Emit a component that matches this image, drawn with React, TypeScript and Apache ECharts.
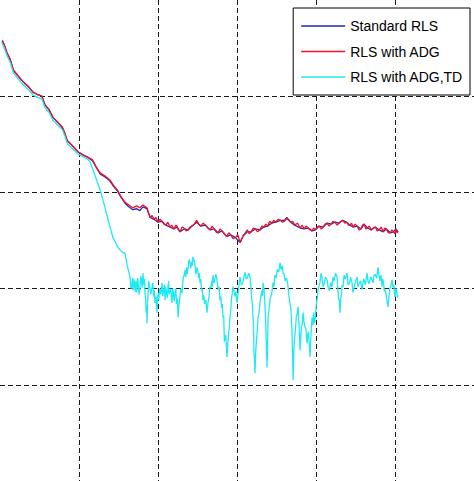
import { useEffect, useRef } from 'react';
import * as echarts from 'echarts';

// iteration axis / MSE (dB) axis
const xTicks = [0, 1000, 2000, 3000, 4000, 5000, 6000];
const yTicks = [-50, -40, -30, -20, -10, 0];

const seriesNames = ['Standard RLS', 'RLS with ADG', 'RLS with ADG,TD'];

// [iteration, dB]
const standardRls = [
  [30, -4.2], [50, -4.6], [90, -5.5], [130, -6.2], [170, -7.3], [220, -7.8], [270, -8.3], [320, -8.7],
  [370, -9.1], [420, -9.6], [470, -9.8], [530, -10.0], [570, -10.9], [620, -11.4], [670, -12.2],
  [730, -12.7], [790, -13.3], [820, -13.9], [850, -14.6], [910, -15.1], [990, -15.8], [1050, -16.1],
  [1100, -16.3], [1170, -16.7], [1220, -17.4], [1270, -18.1], [1330, -18.4], [1390, -18.8], [1440, -19.4],
  [1490, -19.9], [1530, -20.5], [1580, -21.1], [1630, -21.5], [1680, -21.8], [1730, -21.7], [1770, -21.9],
  [1810, -21.5], [1860, -21.7], [1900, -22.6], [1950, -22.8], [2000, -23.1], [2050, -23.0], [2100, -23.4],
  [2150, -23.6], [2200, -23.8], [2240, -23.6], [2280, -24.1], [2330, -23.8], [2380, -23.9], [2430, -23.5],
  [2490, -23.1], [2540, -23.5], [2600, -23.4], [2660, -23.9], [2710, -23.8], [2760, -24.2], [2810, -24.0],
  [2870, -24.6], [2920, -24.4], [2980, -24.7], [3040, -25.2], [3080, -24.5], [3130, -24.1], [3180, -24.1],
  [3230, -23.8], [3290, -23.9], [3340, -23.6], [3390, -23.5], [3440, -23.2], [3490, -23.1], [3550, -22.9],
  [3600, -22.9], [3630, -22.6], [3680, -23.1], [3730, -23.4], [3800, -23.7], [3850, -23.8], [3900, -23.7],
  [3950, -24.0], [3990, -23.9], [4040, -23.5], [4090, -23.6], [4140, -23.2], [4190, -23.3], [4240, -23.1],
  [4290, -23.2], [4340, -22.9], [4390, -23.1], [4430, -23.4], [4470, -23.6], [4520, -23.5], [4570, -23.8],
  [4610, -23.3], [4650, -23.7], [4700, -23.9], [4750, -23.6], [4800, -23.9], [4850, -24.1], [4890, -23.8],
  [4940, -24.2], [4980, -24.1], [5010, -23.8], [5040, -24.1],
];

const rlsAdg = [
  [30, -4.2], [50, -4.6], [90, -5.5], [130, -6.2], [170, -7.3], [220, -7.8], [270, -8.3], [320, -8.7],
  [370, -9.1], [420, -9.6], [470, -9.8], [530, -10.0], [570, -10.9], [620, -11.4], [670, -12.2],
  [730, -12.7], [790, -13.2], [820, -13.8], [850, -14.6], [910, -15.1], [990, -15.8], [1050, -16.1],
  [1100, -16.3], [1170, -16.6], [1220, -17.4], [1270, -18.0], [1330, -18.3], [1390, -18.7], [1440, -19.3],
  [1490, -19.8], [1530, -20.4], [1580, -21.0], [1630, -21.3], [1680, -21.6], [1730, -21.4], [1770, -21.6],
  [1810, -21.3], [1860, -21.6],
  [1900, -22.6], [1925, -22.4], [1950, -22.8], [1975, -22.6], [2000, -23.1], [2025, -22.8], [2050, -23.0],
  [2075, -23.3], [2100, -23.4], [2125, -23.1], [2150, -23.6], [2175, -23.4], [2200, -23.8], [2225, -23.4],
  [2240, -23.5], [2260, -23.9], [2280, -24.1], [2305, -23.6], [2330, -23.7], [2355, -24.0], [2380, -23.9],
  [2405, -23.6], [2430, -23.5], [2460, -23.3], [2490, -22.9], [2515, -23.3], [2540, -23.5], [2570, -23.2],
  [2600, -23.4], [2630, -23.7], [2660, -23.9], [2685, -23.5], [2710, -23.8], [2735, -24.1], [2760, -24.2],
  [2785, -23.8], [2810, -24.0], [2840, -24.3], [2870, -24.6], [2895, -24.2], [2920, -24.4], [2950, -24.8],
  [2980, -24.7], [3010, -24.4], [3040, -25.2], [3060, -24.8], [3080, -24.5], [3105, -24.2], [3130, -23.9],
  [3155, -24.3], [3180, -24.1], [3205, -23.7], [3230, -23.8], [3260, -24.1], [3290, -23.9], [3315, -23.5],
  [3340, -23.6], [3365, -23.3], [3390, -23.5], [3415, -23.0], [3440, -23.2], [3465, -22.9], [3490, -23.1],
  [3520, -22.8], [3550, -22.9], [3575, -23.1], [3600, -23.0], [3630, -22.7], [3655, -22.9], [3680, -23.1],
  [3705, -23.0], [3730, -23.4], [3765, -23.2], [3800, -23.7], [3825, -23.4], [3850, -23.8], [3875, -23.5],
  [3900, -23.7], [3925, -23.9], [3950, -24.0], [3970, -23.7], [3990, -23.9], [4015, -23.6], [4040, -23.5],
  [4065, -23.8], [4090, -23.6], [4115, -23.3], [4140, -23.2], [4165, -23.5], [4190, -23.3], [4215, -23.0],
  [4240, -23.1], [4265, -23.4], [4290, -23.2], [4315, -23.0], [4340, -22.9], [4365, -23.2], [4390, -23.1],
  [4410, -23.4], [4430, -23.4], [4450, -23.2], [4470, -23.6], [4495, -23.3], [4520, -23.5], [4545, -23.9],
  [4570, -23.8], [4590, -23.4], [4610, -23.3], [4630, -23.8], [4650, -23.7], [4675, -23.5], [4700, -23.9],
  [4725, -23.7], [4750, -23.6], [4775, -24.0], [4800, -23.9], [4825, -23.6], [4850, -24.1], [4870, -23.7],
  [4890, -23.8], [4915, -24.2], [4940, -24.2], [4960, -23.9], [4980, -24.1], [5000, -24.3], [5010, -23.8],
  [5025, -24.2], [5040, -24.1],
];

const rlsAdgTd = [
  [20, -4.4], [50, -4.9], [90, -5.8], [130, -6.5], [170, -7.6], [220, -8.1], [270, -8.6], [320, -9.0],
  [370, -9.4], [420, -9.9], [470, -10.1], [530, -10.3], [570, -11.2], [620, -11.7], [670, -12.5],
  [730, -13.0], [790, -13.5], [820, -14.1], [850, -14.9], [910, -15.4], [990, -16.0], [1050, -16.3],
  [1100, -16.5], [1140, -16.8], [1200, -18.2], [1270, -19.8], [1320, -21.3], [1370, -22.9], [1430, -24.7],
  [1480, -25.5], [1520, -26.0], [1560, -26.3], [1583, -26.3], [1610, -27.6],
  [1646, -28.8], [1658, -30.0], [1670, -29.7], [1677, -28.9], [1684, -30.2], [1692, -29.0], [1700, -29.4],
  [1710, -30.3], [1720, -29.2], [1728, -30.4], [1735, -29.9], [1742, -28.9], [1750, -29.5], [1760, -30.6],
  [1772, -30.0], [1781, -28.7], [1790, -29.0], [1800, -29.9], [1810, -28.4], [1818, -29.4], [1825, -29.7],
  [1830, -29.0], [1836, -30.5], [1843, -31.0], [1850, -32.5], [1856, -31.8], [1861, -33.6], [1868, -31.2],
  [1875, -30.5], [1882, -29.2], [1890, -29.6], [1908, -30.6], [1925, -29.8], [1935, -29.4], [1945, -30.8],
  [1953, -30.2], [1962, -31.5], [1975, -30.8], [1988, -32.5], [1994, -31.4], [2000, -30.5], [2010, -31.2],
  [2020, -30.0], [2035, -30.6], [2051, -29.4], [2060, -30.8], [2070, -30.3], [2080, -29.6], [2089, -31.2],
  [2097, -29.8], [2105, -30.2], [2116, -31.0], [2127, -29.8], [2133, -29.2], [2140, -30.6], [2160, -30.0],
  [2178, -31.5], [2186, -30.0], [2195, -30.4], [2205, -31.3], [2216, -30.5], [2225, -30.0], [2235, -31.6],
  [2245, -31.0], [2254, -33.0], [2262, -32.0], [2270, -31.4], [2287, -30.0], [2304, -30.5], [2312, -29.5],
  [2320, -28.9], [2331, -28.6], [2342, -28.1], [2351, -28.8], [2360, -27.8], [2370, -28.5], [2380, -27.9],
  [2392, -27.0], [2405, -27.3], [2415, -27.9], [2425, -27.2], [2434, -27.6], [2443, -26.7], [2454, -27.0],
  [2465, -27.3], [2480, -28.5], [2494, -27.8], [2505, -28.2], [2515, -28.9], [2524, -28.4], [2532, -29.4],
  [2541, -29.0], [2550, -30.2], [2560, -30.0], [2570, -31.2], [2580, -30.7], [2590, -31.6], [2605, -31.2],
  [2620, -32.5], [2632, -31.5], [2645, -30.9], [2652, -30.2], [2659, -29.8], [2670, -29.9], [2680, -29.2],
  [2688, -29.8], [2697, -28.6], [2708, -29.4], [2720, -29.0], [2733, -28.5], [2747, -29.1], [2756, -29.8],
  [2765, -30.1], [2775, -29.8], [2785, -31.2], [2795, -30.8], [2805, -32.0], [2814, -31.6], [2823, -33.0],
  [2832, -32.8], [2840, -35.5], [2857, -34.8], [2874, -37.1], [2882, -36.0], [2890, -35.0], [2900, -34.2],
  [2912, -33.0], [2920, -32.4], [2930, -31.0], [2940, -30.5], [2950, -29.8], [2962, -30.2], [2975, -30.8],
  [2988, -30.3], [3000, -31.5], [3010, -30.8], [3020, -30.0], [3030, -29.4], [3038, -28.8],
  [3054, -29.6], [3070, -29.5], [3086, -28.9], [3102, -28.3], [3116, -29.0], [3130, -28.9], [3148, -28.4],
  [3165, -28.8], [3175, -29.6], [3185, -31.0], [3194, -31.5], [3203, -33.0], [3209, -34.0], [3215, -36.5],
  [3222, -37.5], [3228, -38.8], [3236, -36.8], [3245, -35.5], [3255, -34.5], [3266, -33.0], [3279, -32.5],
  [3292, -31.5], [3305, -30.6], [3317, -30.2], [3323, -30.8], [3330, -29.4], [3340, -30.0], [3350, -31.0],
  [3365, -34.0], [3380, -38.2], [3387, -36.0], [3393, -33.0], [3405, -32.2], [3420, -31.0], [3438, -30.6],
  [3456, -29.4], [3468, -29.8], [3480, -28.6], [3495, -28.9], [3510, -28.0], [3528, -28.3], [3545, -27.3],
  [3555, -27.9], [3565, -28.0], [3574, -27.6], [3583, -28.4], [3597, -28.5], [3610, -29.2], [3628, -28.9],
  [3646, -29.8], [3658, -30.8], [3670, -31.5], [3684, -32.2], [3697, -34.6], [3703, -36.5], [3710, -39.5],
  [3722, -36.0], [3735, -34.6], [3742, -34.0], [3750, -33.0], [3762, -32.6], [3773, -31.9], [3779, -32.9],
  [3785, -33.8], [3792, -35.0], [3798, -36.4], [3806, -35.2], [3815, -34.0], [3825, -33.8], [3836, -32.5],
  [3848, -33.5], [3860, -34.0], [3873, -34.2], [3887, -35.7], [3896, -34.8], [3905, -34.5], [3915, -35.8],
  [3925, -37.1], [3930, -36.0], [3935, -35.0], [3942, -34.0], [3950, -33.0], [3960, -33.8], [3970, -32.5],
  [3980, -33.6], [3988, -33.3], [3996, -32.5], [4005, -31.5], [4016, -31.0], [4026, -30.1],
  [4050, -29.4], [4063, -28.4], [4076, -28.8], [4088, -29.8], [4100, -29.6], [4120, -28.8], [4140, -29.1],
  [4155, -29.9], [4170, -30.2], [4186, -29.4], [4203, -29.8], [4216, -28.8], [4230, -29.2], [4248, -28.4],
  [4266, -28.8], [4275, -29.8], [4285, -31.0], [4295, -31.2], [4304, -32.5], [4312, -31.0], [4320, -30.8],
  [4331, -29.6], [4342, -29.8], [4356, -28.6], [4370, -29.0], [4382, -28.7], [4393, -28.4], [4406, -29.6],
  [4420, -29.5], [4438, -28.8], [4456, -29.4], [4468, -30.4], [4480, -30.0], [4500, -29.2], [4520, -28.8],
  [4530, -29.8], [4540, -29.6], [4562, -29.2], [4583, -30.1], [4594, -29.4], [4605, -29.0], [4625, -29.6],
  [4646, -28.4], [4658, -29.2], [4670, -29.5], [4696, -28.8], [4722, -29.4], [4736, -28.6], [4750, -28.5],
  [4768, -28.9], [4786, -27.8], [4798, -28.6], [4810, -29.2], [4823, -28.6], [4836, -29.8], [4845, -29.0],
  [4855, -29.4], [4865, -30.3], [4874, -30.1], [4885, -30.5], [4895, -31.0], [4903, -31.5], [4912, -31.9],
  [4924, -30.8], [4935, -30.0], [4950, -29.6], [4963, -29.1], [4975, -29.9], [4985, -29.6], [4993, -30.4],
  [5001, -30.9], [5010, -30.0], [5020, -30.2], [5030, -30.9], [5040, -30.7],
];

const colors = ['#2626b4', '#ec1524', '#1fe9f2'];

export default function App() {
  const chartRef = useRef<HTMLDivElement>(null);

  useEffect(() => {
    const chart = echarts.init(chartRef.current, null, { renderer: 'svg' });
    const gridLine = {
      show: true,
      showMinLine: false,
      showMaxLine: false,
      lineStyle: { color: '#1a1a1a', width: 1, type: [5, 3] },
    };
    const option = {
      animation: false,
      backgroundColor: '#ffffff',
      color: colors,
      grid: { left: 0, right: 0, top: 0, bottom: 0 },
      legend: {
        orient: 'vertical',
        right: 4,
        top: 8,
        padding: [11, 7, 11, 8],
        itemGap: 11.5,
        itemWidth: 44,
        itemHeight: 1.5,
        icon: 'rect',
        backgroundColor: '#ffffff',
        borderColor: '#000000',
        borderWidth: 1,
        borderRadius: 0,
        textStyle: { fontFamily: 'Liberation Sans', fontSize: 14, color: '#000000' },
        data: seriesNames,
      },
      xAxis: {
        type: 'value',
        min: xTicks[0],
        max: xTicks[xTicks.length - 1],
        interval: 1000,
        axisLine: { show: false },
        axisTick: { show: false },
        axisLabel: { show: false },
        splitLine: gridLine,
      },
      yAxis: {
        type: 'value',
        min: yTicks[0],
        max: yTicks[yTicks.length - 1],
        interval: 10,
        axisLine: { show: false },
        axisTick: { show: false },
        axisLabel: { show: false },
        splitLine: gridLine,
      },
      series: [standardRls, rlsAdg, rlsAdgTd].map((data, i) => ({
        name: seriesNames[i],
        type: 'line',
        data,
        symbol: 'none',
        lineStyle: { width: 1.3, color: colors[i] },
        z: 2 + i,
      })),
    };
    chart.setOption(option);
    return () => {
      chart.dispose();
    };
  }, []);

  return (
    <div
      ref={chartRef}
      style={{ position: 'absolute', left: 0, top: 0, width: '474px', height: '481px' }}
    />
  );
}
